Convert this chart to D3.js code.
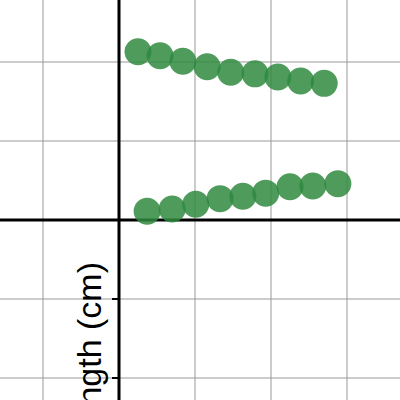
<!DOCTYPE html>
<html><head><meta charset="utf-8">
<script src="https://cdn.jsdelivr.net/npm/d3@7"></script>
<style>body{margin:0;background:#fff}</style></head>
<body><svg id="c" width="400" height="400"></svg>
<script>
const upperX=[0.25,0.54,0.84,1.16,1.47,1.79,2.09,2.39,2.70];
const upperY=[2.13,2.08,2.01,1.94,1.87,1.85,1.81,1.76,1.73];
const lowerX=[0.37,0.70,1.01,1.33,1.63,1.93,2.25,2.55,2.88];
const lowerY=[0.11,0.14,0.20,0.27,0.30,0.34,0.42,0.43,0.46];
const gridX=[-1,1,2,3];
const gridY=[-2,-1,1,2];
const yLabel="Hang Length (cm)";

const svg=d3.select("#c");
const x=d3.scaleLinear().domain([-119/76,(400-119)/76]).range([0,400]);
const y=d3.scaleLinear().domain([220/79,-(180)/79]).range([0,400]);
svg.selectAll(".gx").data(gridX).join("line").attr("x1",d=>x(d)).attr("x2",d=>x(d)).attr("y1",0).attr("y2",400).attr("stroke","#999").attr("stroke-width",1);
svg.selectAll(".gy").data(gridY).join("line").attr("y1",d=>y(d)).attr("y2",d=>y(d)).attr("x1",0).attr("x2",400).attr("stroke","#999").attr("stroke-width",1);
svg.append("line").attr("x1",x(0)).attr("x2",x(0)).attr("y1",0).attr("y2",400).attr("stroke","#000").attr("stroke-width",3);
svg.append("line").attr("y1",y(0)).attr("y2",y(0)).attr("x1",0).attr("x2",400).attr("stroke","#000").attr("stroke-width",3);
svg.selectAll(".t").data(gridY.filter(d=>d<0)).join("line").attr("y1",d=>y(d)).attr("y2",d=>y(d)).attr("x1",x(0)-7).attr("x2",x(0)).attr("stroke","#000").attr("stroke-width",2);
const pts=upperX.map((v,i)=>[v,upperY[i]]).concat(lowerX.map((v,i)=>[v,lowerY[i]]));
svg.selectAll(".p").data(pts).join("circle").attr("cx",d=>x(d[0])).attr("cy",d=>y(d[1])).attr("r",13.5).attr("fill","#2f8a40").attr("fill-opacity",0.85);
svg.append("text").attr("transform",`translate(101,262) rotate(-90)`).attr("text-anchor","end")
 .attr("font-family","Liberation Sans, Arial, sans-serif").attr("font-size",34).text(yLabel);
</script></body></html>
